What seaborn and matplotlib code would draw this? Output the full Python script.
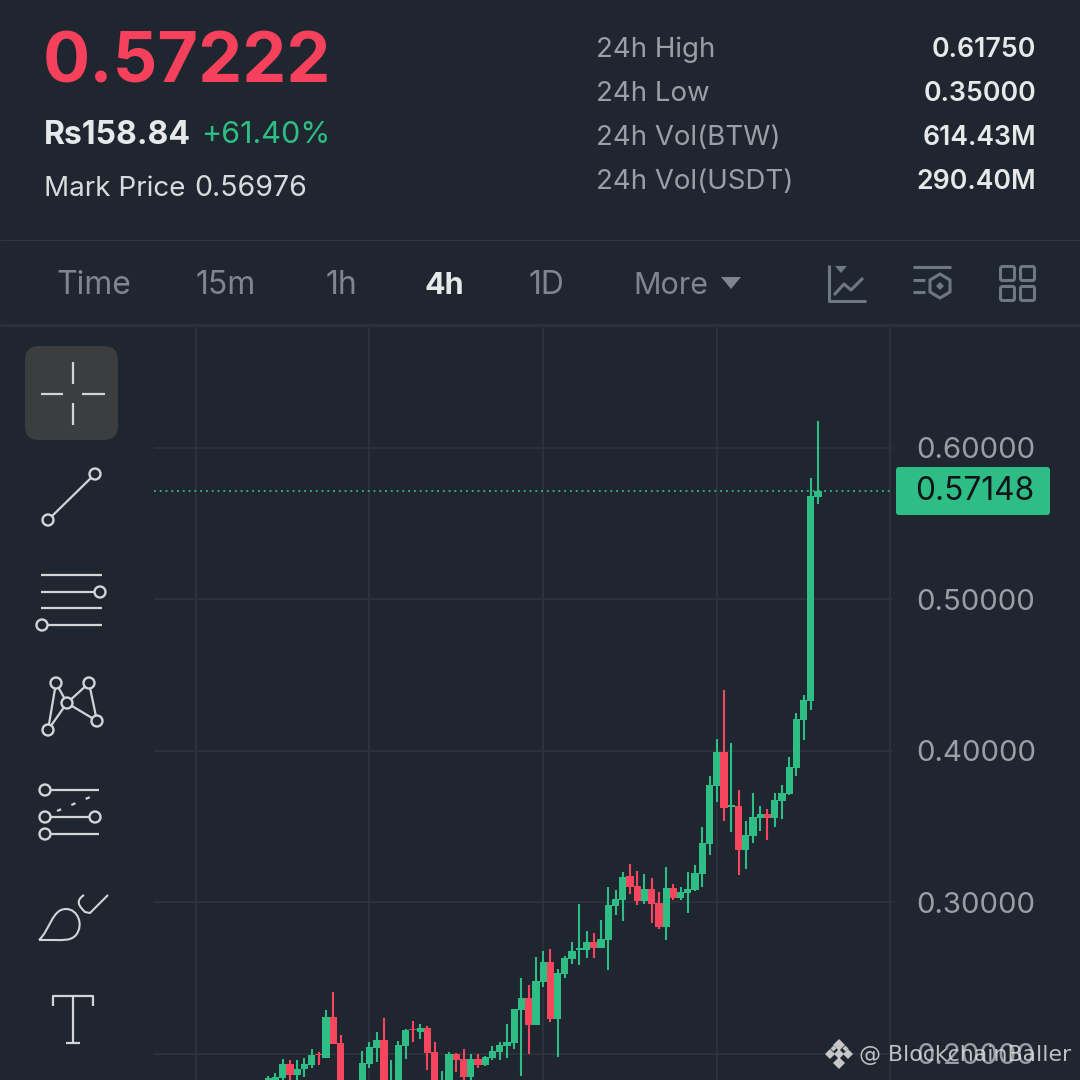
import matplotlib
matplotlib.use("Agg")
import matplotlib.pyplot as plt
import numpy as np
import pandas as pd
import seaborn as sns
from matplotlib.patches import Circle, FancyBboxPatch, PathPatch, Polygon
from matplotlib.path import Path

# candle values, oldest first
opens = [.1802, .1828, .1842, .1934, .1861, .1901, .1927, .2000, .1974, .2244, .2073, .1650, .1620, .1795, .1934, .2040,
         .2092, .1729, .1795, .2053, .2165, .2145, .2172, .2013, .1729, .1776, .2000, .1967, .1848, .1967, .1927, .1974,
         .2013, .2053, .2073, .2290, .2370, .2191, .2475, .2607, .2231, .2528, .2627, .2686, .2686, .2739, .2700, .2752,
         .2977, .3016, .3175, .3109, .3010, .3089, .2997, .2838, .3096, .3030, .3063, .3082, .3188, .3386, .3769, .3993,
         .3630, .3637, .3346, .3439, .3558, .3584, .3558, .3670, .3716, .3888, .4204, .4330, .5676]
closes = [.1842, .1848, .1934, .1861, .1901, .1934, .1993, .1993, .2244, .2066, .1729, .1770, .1800, .1941, .2046, .2092,
          .1762, .1815, .2059, .2158, .2158, .2172, .2007, .1762, .1795, .2000, .1960, .1848, .1967, .1927, .1980, .2020,
          .2059, .2079, .2297, .2370, .2191, .2482, .2607, .2231, .2535, .2634, .2680, .2700, .2739, .2700, .2759, .2983,
          .3023, .3168, .3102, .3010, .3089, .2990, .2838, .3096, .3030, .3069, .3089, .3195, .3393, .3775, .3993, .3624,
          .3643, .3346, .3445, .3564, .3584, .3558, .3676, .3723, .3894, .4211, .4336, .5683, .5716]
highs = [.1855, .1875, .1967, .1960, .1960, .1974, .2033, .2013, .2290, .2409, .2125, .1790, .1815, .2020, .2079, .2145,
         .2238, .1960, .2086, .2165, .2218, .2198, .2185, .2079, .1888, .2013, .2007, .2033, .2000, .2000, .1987, .2053,
         .2079, .2198, .2297, .2502, .2455, .2640, .2680, .2693, .2561, .2647, .2739, .2990, .2812, .2799, .2884, .3102,
         .3082, .3201, .3254, .3208, .3188, .3162, .3069, .3234, .3122, .3102, .3201, .3247, .3498, .3835, .4079, .4402,
         .4053, .3742, .3538, .3723, .3637, .3617, .3723, .3775, .3960, .4251, .4369, .5802, .6178]
lows = [.1776, .1802, .1809, .1815, .1815, .1848, .1908, .1927, .1974, .2066, .1696, .1620, .1600, .1762, .1908, .1947,
        .1729, .1696, .1776, .1967, .2079, .2099, .1894, .1729, .1696, .1762, .1881, .1802, .1802, .1908, .1921, .1960,
        .1960, .1974, .2033, .1855, .2000, .2191, .2442, .2211, .1980, .2502, .2594, .2587, .2634, .2634, .2700, .2554,
        .2917, .2878, .3056, .2983, .2990, .2865, .2825, .2752, .3016, .3016, .2931, .3076, .3102, .3313, .3663, .3538,
        .3465, .3181, .3221, .3393, .3472, .3412, .3498, .3551, .3709, .3835, .4072, .4270, .5630]

price_ticks = [0.2, 0.3, 0.4, 0.5, 0.6]
last_price = 0.57148
intervals = ["Time", "15m", "1h", "4h", "1D", "More"]
stat_names = ["24h High", "24h Low", "24h Vol(BTW)", "24h Vol(USDT)"]
stat_values = ["0.61750", "0.35000", "614.43M", "290.40M"]

BG = "#1f2630"
GREEN = "#2ebd85"
RED = "#f6465d"
GRID = "#2c323c"
ICON = "#d2d4d8"
ICON_DIM = "#6f7684"

sns.set_theme(style="dark", rc={"figure.facecolor": BG, "axes.facecolor": BG})
plt.rcParams["font.family"] = ["Inter", "DejaVu Sans"]

fig = plt.figure(figsize=(10.8, 10.8), dpi=100)

# chart area in figure fractions, 154..893 px across and 326..1080 px down
ax = fig.add_axes([154 / 1080, 0, 739 / 1080, 754 / 1080])

df = pd.DataFrame({"idx": np.arange(len(opens)), "open": opens, "close": closes, "high": highs, "low": lows})
df["bottom"] = df[["open", "close"]].min(axis=1)
df["body"] = (df["close"] - df["open"]).abs()
df["up"] = df["close"] >= df["open"]

for is_up, colour in [(True, GREEN), (False, RED)]:
    part = df[df["up"] == is_up]
    ax.vlines(part["idx"], part["low"], part["high"], color=colour, lw=1.5, zorder=3)
    sns.barplot(data=part, x="idx", y="body", native_scale=True, color=colour, saturation=1,
                width=1.0, errorbar=None, bottom=part["bottom"].values, linewidth=0, zorder=4, ax=ax)

ax.axhline(last_price, color=GREEN, lw=1.3, ls=(0, (1, 2.2)), zorder=2)

ax.set_xlim(-15.78, 86.35)
ax.set_ylim(0.1828, 0.6805)
ax.set_xticks([-10, 14, 38, 62, 86])
ax.set_xticklabels([])
ax.set_xlabel("")
ax.set_ylabel("")
ax.yaxis.tick_right()
ax.set_yticks(price_ticks)
ax.set_yticklabels([f"{p:.5f}" for p in price_ticks], fontsize=21.2, color="#9a9ea6")
ax.tick_params(axis="y", length=0, pad=17)
ax.tick_params(axis="x", length=0)
ax.grid(True, color=GRID, lw=1.4)
ax.set_axisbelow(True)
sns.despine(ax=ax, left=True, bottom=True, right=True, top=True)

# overlay in image pixels for the app header and the drawing tools
ui = fig.add_axes([0, 0, 1, 1], facecolor="none")
ui.set_xlim(0, 1080)
ui.set_ylim(1080, 0)
ui.axis("off")


def line(pts, color=ICON, lw=1.6, **kw):
    xs, ys = zip(*pts)
    ui.plot(xs, ys, color=color, lw=lw, solid_capstyle="butt", **kw)


def ring(x, y, r=5.5, color=ICON):
    ui.add_patch(Circle((x, y), r, fc=BG, ec=color, lw=1.7, zorder=5))


# header
ui.text(43, 64, "0.57222", fontsize=50.4, fontweight="bold", color="#f5415b", va="center")
ui.text(44, 135, "Rs158.84", fontsize=23, fontweight="bold", color="#e6e8ea", va="center")
ui.text(201, 135, "+61.40%", fontsize=22, color=GREEN, va="center")
ui.text(44, 189, "Mark Price", fontsize=20, color="#d8dadd", va="center")
ui.text(194, 189, "0.56976", fontsize=20.5, color="#d8dadd", va="center")
for i, (name, value) in enumerate(zip(stat_names, stat_values)):
    y = 50 + i * 44
    ui.text(596, y, name, fontsize=19.9, color="#9a9ea6", va="center")
    ui.text(1036, y, value, fontsize=19.2, fontweight="semibold", color="#e6e8ea", va="center", ha="right")
line([(0, 240), (1080, 240)], color="#2f353f", lw=0.9)

# interval bar
for label, x in zip(intervals, [57, 196, 326, 425, 529, 633]):
    active = label == "4h"
    ui.text(x, 286, label, fontsize=22 if active or label == "More" else 23,
            color="#e6e8ea" if active else "#7f8590",
            fontweight="bold" if active else "normal", va="center")
ui.add_patch(Polygon([(721, 277), (741, 277), (731, 289)], fc="#7f8590", ec="none"))
line([(0, 325), (1080, 325)], color="#2a303a", lw=2.4)

# top right icons
line([(829, 265), (829, 301), (866, 301)], color=ICON_DIM, lw=2.2)
ui.add_patch(Polygon([(835, 266), (847, 266), (841, 273)], fc=ICON_DIM, ec="none"))
line([(834, 295), (844, 284), (851, 290), (863, 278)], color=ICON_DIM, lw=2.2)
line([(913, 267), (951, 267)], color=ICON_DIM, lw=2.2)
line([(913, 280), (925, 280)], color=ICON_DIM, lw=2.2)
line([(913, 292), (925, 292)], color=ICON_DIM, lw=2.2)
ui.add_patch(Polygon([(940, 274), (950, 280), (950, 292), (940, 298), (930, 292), (930, 280)],
                     fc="none", ec=ICON_DIM, lw=2.2))
ui.add_patch(Polygon([(940, 282), (944, 286), (940, 290), (936, 286)], fc=ICON_DIM, ec="none"))
for x0 in (1000, 1020):
    for y0 in (266, 286):
        ui.add_patch(FancyBboxPatch((x0 + 0.5, y0 + 0.5), 14, 14, boxstyle="round,pad=0,rounding_size=2",
                                    fc="none", ec=ICON_DIM, lw=2.2))

# left tool column
ui.add_patch(FancyBboxPatch((37, 358), 69, 70, boxstyle="round,pad=12,rounding_size=14", fc="#3c3d3f", ec="none"))
for pts in ([(73, 362), (73, 384)], [(73, 403), (73, 425)], [(41, 394), (63, 394)], [(82, 394), (105, 394)]):
    line(pts)

line([(48, 520), (95, 474)])
ring(95, 474)
ring(48, 520)

line([(41, 575), (102, 575)])
line([(41, 592), (100, 592)])
line([(41, 608), (102, 608)])
line([(42, 625), (102, 625)])
ring(100, 592)
ring(42, 625)

net = [(56, 683), (89, 683), (67, 703), (97, 721), (48, 730)]
for a, b in [(0, 4), (0, 2), (2, 1), (1, 3), (2, 3), (2, 4)]:
    line([net[a], net[b]])
for x, y in net:
    ring(x, y)

line([(45, 790), (99, 790)])
line([(45, 817), (95, 817)])
line([(45, 834), (99, 834)])
line([(57, 811), (95, 795)], ls=(0, (2, 5)))
for x, y in [(45, 790), (45, 817), (95, 817), (45, 834)]:
    ring(x, y)

blade = Path([(39, 940), (50, 930), (52, 909), (66, 909), (78, 909), (84, 925), (76, 935), (71, 941), (62, 940), (55, 940),
              (39, 940)],
             [Path.MOVETO, Path.CURVE4, Path.CURVE4, Path.CURVE4, Path.CURVE4, Path.CURVE4, Path.CURVE4, Path.CURVE4,
              Path.CURVE4, Path.CURVE4, Path.LINETO])
ui.add_patch(PathPatch(blade, fc="none", ec=ICON, lw=1.5))
handle = Path([(84, 895), (75, 901), (79, 906), (85, 912), (90, 913), (108, 895)],
              [Path.MOVETO, Path.CURVE4, Path.CURVE4, Path.CURVE4, Path.LINETO, Path.LINETO])
ui.add_patch(PathPatch(handle, fc="none", ec=ICON, lw=1.5))

line([(53, 1006), (53, 996), (93, 996), (93, 1006)])
line([(73, 996), (73, 1043)])
line([(66, 1043), (80, 1043)])

# current price tag
ui.add_patch(FancyBboxPatch((899, 470), 148, 42, boxstyle="round,pad=3,rounding_size=3", fc=GREEN, ec="none"))
ui.text(975, 491, f"{last_price:.5f}", fontsize=22.8, color="#10141a", va="center", ha="center")

# watermark
for dx, dy, size in [(0, -9, 6), (0, 9, 6), (-9, 0, 5), (9, 0, 5), (0, 0, 5), (-6, -6, 3), (6, -6, 3)]:
    ui.plot(839 + dx, 1054 + dy, marker="D", ms=size, color="#d9d9d9", mew=0, alpha=0.9)
ui.text(859, 1055, "@ BlockchainBaller", fontsize=15.8, family="DejaVu Sans", color="#dcdcdc", alpha=0.85, va="center")

fig.savefig("out.png", dpi=100, facecolor=BG)
